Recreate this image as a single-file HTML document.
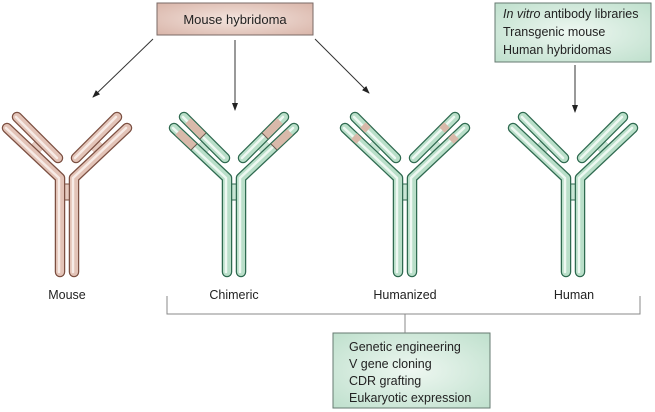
<!DOCTYPE html>
<html><head><meta charset="utf-8"><style>
body{margin:0;background:#fff;}
svg{display:block;font-family:"Liberation Sans",Arial,sans-serif;}
</style></head><body>
<svg width="655" height="412" viewBox="0 0 655 412" xmlns="http://www.w3.org/2000/svg">
<defs>
<marker id="ah" markerWidth="8" markerHeight="8" refX="7" refY="4" orient="auto" markerUnits="userSpaceOnUse">
<path d="M0,1 L8,4 L0,7 z" fill="#222"/></marker>
<radialGradient id="gP" cx="50%" cy="50%" r="70%"><stop offset="0" stop-color="#f3e4de"/><stop offset="1" stop-color="#d9b5a9"/></radialGradient>
<radialGradient id="gG" cx="50%" cy="50%" r="70%"><stop offset="0" stop-color="#eef7f1"/><stop offset="1" stop-color="#bfe0cd"/></radialGradient>
<g id="shape">
<path d="M-60,128 L-7,178 L-7,272 M60,128 L7,178 L7,272 M-50,117 L-9,158 M50,117 L9,158" fill="none"/>
</g>
<g id="green">
<rect x="-4" y="184" width="8" height="16" fill="#c9e6d5" stroke="#2f6a50" stroke-width="1"/>
<path d="M-34,143 L-26,151 M34,143 L26,151" stroke="#2f6a50" stroke-width="7"/>
<path d="M-34,143 L-26,151 M34,143 L26,151" stroke="#c9e6d5" stroke-width="5"/>
<use href="#shape" stroke="#2f6a50" stroke-width="10.5" stroke-linecap="round" stroke-linejoin="round"/>
<use href="#shape" stroke="#b9dfc9" stroke-width="8" stroke-linecap="round" stroke-linejoin="round"/>
<use href="#shape" stroke="#eef8f2" stroke-width="2.5" stroke-linecap="round" stroke-linejoin="round" transform="translate(-1,0)"/>
</g>
</defs>

<rect x="157" y="3" width="156" height="32" fill="url(#gP)" stroke="#7a6a66" stroke-width="1"/>
<text x="235" y="24" font-size="13" text-anchor="middle" fill="#222">Mouse hybridoma</text>

<rect x="495" y="3" width="156" height="59" fill="url(#gG)" stroke="#667a70" stroke-width="1"/>
<text x="503" y="18" font-size="12.5" fill="#222"><tspan font-style="italic">In vitro</tspan> antibody libraries</text>
<text x="503" y="36" font-size="12.5" fill="#222">Transgenic mouse</text>
<text x="503" y="54" font-size="12.5" fill="#222">Human hybridomas</text>

<rect x="333" y="333" width="157" height="75" fill="url(#gG)" stroke="#667a70" stroke-width="1"/>
<text x="349" y="351" font-size="12.5" fill="#222">Genetic engineering</text>
<text x="349" y="368" font-size="12.5" fill="#222">V gene cloning</text>
<text x="349" y="385" font-size="12.5" fill="#222">CDR grafting</text>
<text x="349" y="402" font-size="12.5" fill="#222">Eukaryotic expression</text>

<g stroke="#333" stroke-width="1" fill="none">
<line x1="153" y1="39" x2="93" y2="97" marker-end="url(#ah)"/>
<line x1="235" y1="40" x2="235" y2="110" marker-end="url(#ah)"/>
<line x1="315" y1="39" x2="369" y2="93" marker-end="url(#ah)"/>
<line x1="575" y1="65" x2="575" y2="112" marker-end="url(#ah)"/>
<path d="M167,296 L167,314 L640,314 L640,296" stroke="#888"/>
<line x1="405" y1="314" x2="405" y2="333" stroke="#888"/>
</g>

<g font-size="12.5" fill="#222" text-anchor="middle">
<text x="67" y="299">Mouse</text>
<text x="234" y="299">Chimeric</text>
<text x="405" y="299">Humanized</text>
<text x="574" y="299">Human</text>
</g>

<g transform="translate(67,0)">
<rect x="-4" y="184" width="8" height="16" fill="#e6cbc0" stroke="#7c5042" stroke-width="1"/>
<path d="M-34,143 L-26,151 M34,143 L26,151" stroke="#7c5042" stroke-width="7"/>
<path d="M-34,143 L-26,151 M34,143 L26,151" stroke="#e6cbc0" stroke-width="5"/>
<use href="#shape" stroke="#7c5042" stroke-width="10.5" stroke-linecap="round" stroke-linejoin="round"/>
<use href="#shape" stroke="#e3c3b7" stroke-width="8" stroke-linecap="round" stroke-linejoin="round"/>
<use href="#shape" stroke="#f7ebe6" stroke-width="2.5" stroke-linecap="round" stroke-linejoin="round" transform="translate(-1,0)"/>
</g>

<g transform="translate(234,0)">
<use href="#green"/>
<g stroke="#d9b9aa" stroke-width="8" fill="none">
<path d="M-56,132 L-40,147 M56,132 L40,147 M-46,121 L-31,136 M46,121 L31,136"/>
</g>
<g stroke="#6a5a50" stroke-width="1">
<path d="M-43,150 L-37,144 M43,150 L37,144 M-34,139 L-28,133 M34,139 L28,133"/>
</g>
</g>

<g transform="translate(405,0)">
<use href="#green"/>
<g stroke="#d9b9aa" stroke-width="8" fill="none">
<path d="M-51,136 L-46,141 M51,136 L46,141 M-42,125 L-37,130 M42,125 L37,130"/>
</g>
</g>

<g transform="translate(573,0)">
<use href="#green"/>
</g>
</svg>
</body></html>
